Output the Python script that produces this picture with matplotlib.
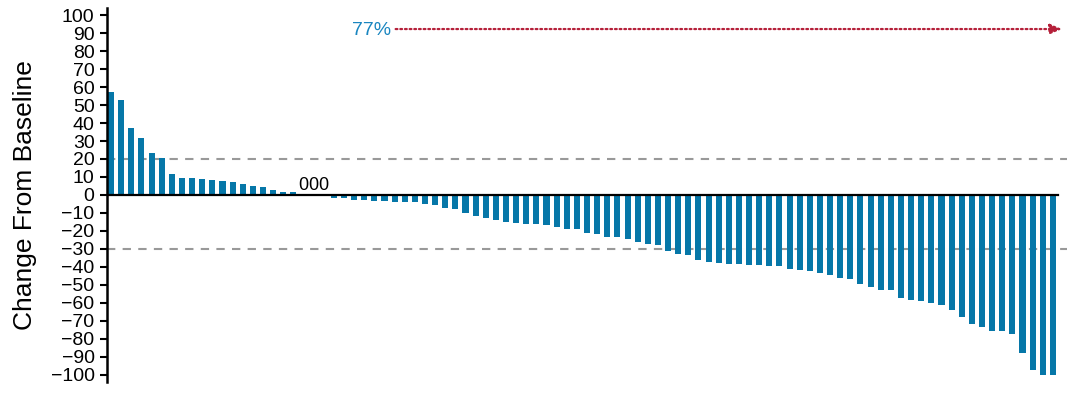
import matplotlib
matplotlib.use("Agg")
import matplotlib.pyplot as plt
import numpy as np

plt.rcParams["font.family"] = ["Liberation Sans Narrow", "Liberation Sans", "DejaVu Sans"]

# change from baseline per patient (%), sorted waterfall order
positive = [57, 53, 37.5, 31.5, 23.5, 20.5, 11.5, 9.6, 9.6, 9.1, 8.5, 7.7, 7.0, 6.2,
            5.1, 4.7, 2.8, 1.5, 1.5]
zeros = [0, 0, 0]
negative = [-1.5, -1.5, -3.0, -3.0, -3.3, -3.3, -3.7, -3.7, -3.7, -5.0, -5.6, -7.4,
            -8.0, -10.0, -11.5, -12.6, -14.1, -14.8, -15.6, -16.3, -16.3, -16.7,
            -17.6, -18.7, -18.7, -21.3, -21.9, -23.1, -23.5, -24.4, -25.9, -27.4,
            -27.9, -31.1, -33.0, -33.3, -36.3, -37.4, -37.8, -38.1, -38.1, -38.9,
            -38.9, -39.3, -39.3, -41.1, -41.7, -42.4, -43.1, -44.3, -46.1, -46.9,
            -49.4, -51.1, -52.8, -52.8, -57.2, -58.3, -59.1, -60.2, -61.3, -63.9,
            -67.6, -71.5, -73.1, -75.7, -75.7, -77.2, -88.0, -97.4, -100, -100]
values = positive + zeros + negative
thresholds = [20, -30]
response_label = "77%"
yticks = list(range(-100, 101, 10))

BAR = "#0677a8"
n = len(values)
x = np.arange(n)

fig = plt.figure(figsize=(10.8, 4.13), dpi=100)
ax = fig.add_axes([0.0991, 0.0746, 0.8889, 0.9065])

ax.bar(x, values, width=0.6, color=BAR, zorder=2)
for i, v in enumerate(values):
    if v == 0:
        ax.text(i, 0.8, "0", ha="center", va="bottom", fontsize=13, color="black")

ax.plot([-0.4, n - 0.5], [0, 0], color="black", lw=1.6, zorder=3)
for t in thresholds:
    ax.axhline(t, color="#999999", lw=1.5, ls=(0, (4, 3.5)), zorder=1)

# responder arrow (dotted, red) with percentage label
arrow_start = 28.1
ax.annotate("", xy=(n - 0.1, 92.2), xytext=(arrow_start, 92.2),
            arrowprops=dict(arrowstyle="-|>,head_length=0.7,head_width=0.3",
                            color="#b5203a", lw=1.6, ls=(0, (0.8, 1.3)),
                            shrinkA=0, shrinkB=0))
ax.text(arrow_start - 0.4, 91.5, response_label, ha="right", va="center",
        fontsize=14, color="#1a86c0")

ax.set_xlim(-0.4, 94.4)
ax.set_ylim(-104, 104)
ax.set_yticks(yticks)
ax.set_yticklabels([str(t).replace("-", "\u2212") for t in yticks])
ax.set_xticks([])
for s in ["top", "right", "bottom"]:
    ax.spines[s].set_visible(False)
ax.spines["left"].set_linewidth(1.8)
ax.tick_params(axis="y", length=5, width=1.5, labelsize=14, pad=4)
ax.set_ylabel("Change From Baseline", fontsize=19, labelpad=10)

fig.savefig("out.png", dpi=100)
